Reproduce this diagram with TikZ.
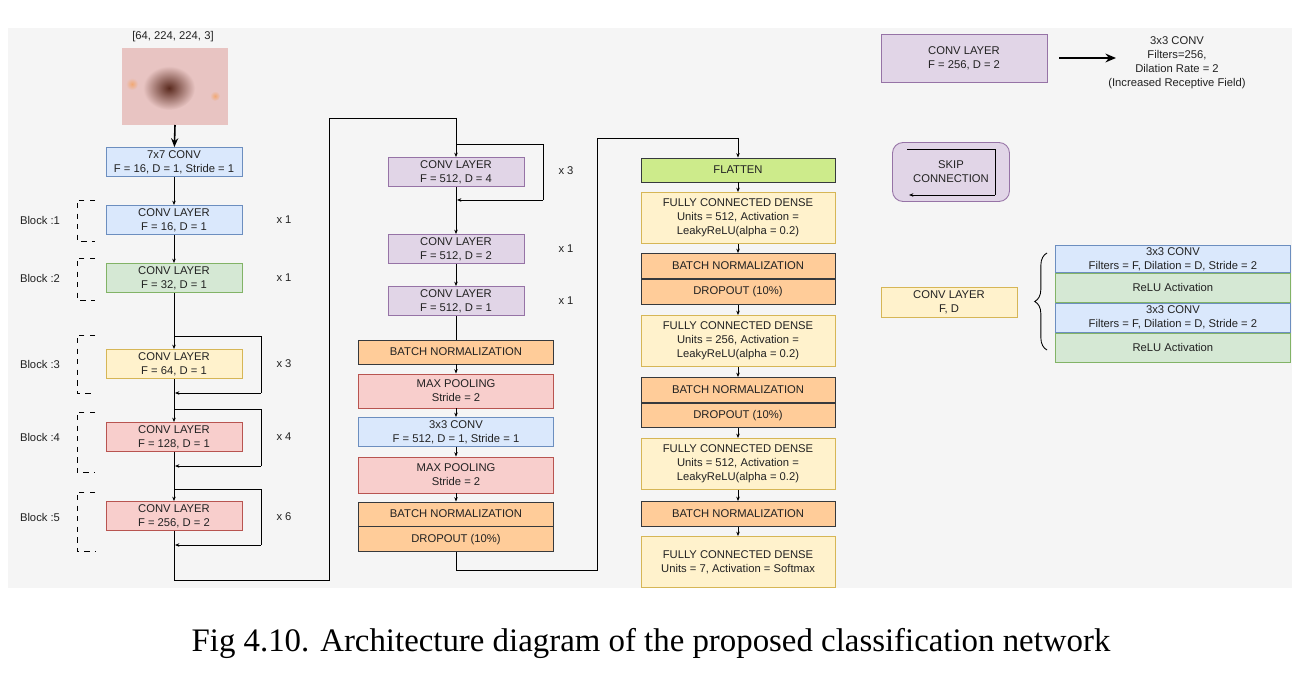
\documentclass[tikz,border=0pt]{standalone}
\usepackage{fontspec}
\setmainfont{Liberation Sans}
\newfontfamily\capfont{Liberation Serif}
\usetikzlibrary{arrows.meta,decorations.pathreplacing,calc}
\definecolor{bgc}{HTML}{F5F5F5}
\definecolor{bluef}{HTML}{DAE8FC}\definecolor{bluel}{HTML}{6C8EBF}
\definecolor{greenf}{HTML}{D5E8D4}\definecolor{greenl}{HTML}{82B366}
\definecolor{yelf}{HTML}{FFF2CC}\definecolor{yell}{HTML}{D6B656}
\definecolor{redf}{HTML}{F8CECC}\definecolor{redl}{HTML}{B85450}
\definecolor{purf}{HTML}{E1D5E7}\definecolor{purl}{HTML}{9673A6}
\definecolor{oraf}{HTML}{FFCC99}\definecolor{oral}{HTML}{36393D}
\definecolor{flatf}{HTML}{CDEB8B}
\definecolor{txt}{HTML}{222222}
\definecolor{skin}{HTML}{E8C4C2}
\definecolor{lesion}{HTML}{5A2A1E}
\begin{document}
\begin{tikzpicture}[x=0.02cm,y=-0.02cm,
  every node/.style={font=\fontsize{6.4}{8}\selectfont, text=txt, align=center, inner sep=0pt},
  box/.style={draw, line width=0.5pt},
  bl/.style={box, fill=bluef, draw=bluel},
  gr/.style={box, fill=greenf, draw=greenl},
  ye/.style={box, fill=yelf, draw=yell},
  re/.style={box, fill=redf, draw=redl},
  pu/.style={box, fill=purf, draw=purl},
  or/.style={box, fill=oraf, draw=oral},
  fl/.style={box, fill=flatf, draw=oral},
  w1/.style={minimum width=2.72cm, minimum height=0.58cm},
  w2/.style={minimum width=3.9cm},
  w3/.style={minimum width=3.88cm},
  ar/.style={-{Stealth[length=2.5pt,width=2pt]}, line width=0.5pt},
  ln/.style={line width=0.5pt},
  dsh/.style={dashed, line width=0.4pt}]
\useasboundingbox (0,0) rectangle (1300,678);
\fill[white] (0,0) rectangle (1300,678);
\fill[bgc] (8,28) rectangle (1292,588);

% input image
\node (shape) at (173,37) {[64, 224, 224, 3]};
\fill[skin] (122,48) rectangle (228,125);
\shade[inner color=lesion, outer color=skin] (169,88) ellipse (26 and 22);
\shade[inner color=orange!40!skin, outer color=skin] (132,84) circle (6);
\shade[inner color=orange!40!skin, outer color=skin] (215,96) circle (5);
\coordinate (img) at (175,125);

% column 1
\node[bl,w1] (c7) at (174,162) {7x7 CONV\\F = 16, D = 1, Stride = 1};
\node[bl,w1] (b1) at (174,220) {CONV LAYER\\F = 16, D = 1};
\node[gr,w1] (b2) at (174,278) {CONV LAYER\\F = 32, D = 1};
\node[ye,w1] (b3) at (174,364) {CONV LAYER\\F = 64, D = 1};
\node[re,w1] (b4) at (174,437) {CONV LAYER\\F = 128, D = 1};
\node[re,w1] (b5) at (174,516) {CONV LAYER\\F = 256, D = 2};
\draw[-{Stealth[length=5pt,width=4pt]}, line width=0.9pt] (img) -- (c7);
\draw[ar] (c7) -- (b1);
\draw[ar] (b1) -- (b2);
\draw[ar] (b2) -- (b3);
\draw[ar] (b3) -- (b4);
\draw[ar] (b4) -- (b5);
\foreach \n/\y/\t/\a/\b in {1/220/x 1/200/241, 2/278/x 1/258/300, 3/364/x 3/335/393, 4/437/x 4/412/472, 5/517/x 6/492/551}{
  \node (bl\n) at (40,\y) {Block :\n};
  \node (x\n) at (284,\y) {\t};
  \draw[dsh] (95,\a) -- (77,\a) -- (77,\b) -- (95,\b);
}
\foreach \a/\b in {336/393, 409/466, 489/545}{
  \draw[ln] (174,\a) -- (261,\a) -- (261,\b);
  \draw[ar] (261,\b) -- (175,\b);
}
\draw[ln] (b5.south) -- (174,580) -- (329,580) -- (329,118) -- (456,118);

% column 2
\node[pu,w1] (p1) at (456,172) {CONV LAYER\\F = 512, D = 4};
\node[pu,w1] (p2) at (456,249) {CONV LAYER\\F = 512, D = 2};
\node[pu,w1] (p3) at (456,301) {CONV LAYER\\F = 512, D = 1};
\draw[ar] (456,118) -- (p1);
\draw[ar] (p1) -- (p2);
\draw[ar] (p2) -- (p3);
\draw[ln] (456,144) -- (543,144) -- (543,200);
\draw[ar] (543,200) -- (457,200);
\node (x6) at (566,171) {x 3};
\node (x7) at (566,249) {x 1};
\node (x8) at (566,301) {x 1};
\node[or,w2,minimum height=0.48cm] (bn1) at (456,352) {BATCH NORMALIZATION};
\node[re,w2,minimum height=0.68cm] (mp1) at (456,391) {MAX POOLING\\Stride = 2};
\node[bl,w2,minimum height=0.58cm] (c33) at (456,432) {3x3 CONV\\F = 512, D = 1, Stride = 1};
\node[re,w2,minimum height=0.72cm] (mp2) at (456,475) {MAX POOLING\\Stride = 2};
\node[or,w2,minimum height=0.48cm] (bn2) at (456,514) {BATCH NORMALIZATION};
\node[or,w2,minimum height=0.5cm,anchor=north] (do1) at (bn2.south) {DROPOUT (10\%)};
\draw[ln] (p3) -- (bn1);
\draw[ar] (bn1) -- (mp1);
\draw[ar] (mp1) -- (c33);
\draw[ar] (c33) -- (mp2);
\draw[ar] (mp2) -- (bn2);
\draw[ln] (do1.south) -- (456,570) -- (597,570) -- (597,138) -- (738,138);

% column 3
\node[fl,w3,minimum height=0.48cm] (flat) at (738,170) {FLATTEN};
\node[ye,w3,minimum height=1.02cm] (fc1) at (738,218) {FULLY CONNECTED DENSE\\Units = 512, Activation =\\LeakyReLU(alpha = 0.2)};
\node[or,w3,minimum height=0.5cm] (bn3) at (738,266) {BATCH NORMALIZATION};
\node[or,w3,minimum height=0.5cm,anchor=north] (do2) at (bn3.south) {DROPOUT (10\%)};
\node[ye,w3,minimum height=1.02cm] (fc2) at (738,341) {FULLY CONNECTED DENSE\\Units = 256, Activation =\\LeakyReLU(alpha = 0.2)};
\node[or,w3,minimum height=0.5cm] (bn4) at (738,390) {BATCH NORMALIZATION};
\node[or,w3,minimum height=0.48cm,anchor=north] (do3) at (bn4.south) {DROPOUT (10\%)};
\node[ye,w3,minimum height=1.02cm] (fc3) at (738,464) {FULLY CONNECTED DENSE\\Units = 512, Activation =\\LeakyReLU(alpha = 0.2)};
\node[or,w3,minimum height=0.5cm] (bn5) at (738,514) {BATCH NORMALIZATION};
\node[ye,w3,minimum height=1.02cm] (fc4) at (738,562) {FULLY CONNECTED DENSE\\Units = 7, Activation = Softmax};
\draw[ar] (738,138) -- (flat);
\draw[ar] (flat) -- (fc1);
\draw[ar] (fc1) -- (bn3);
\draw[ar] (do2) -- (fc2);
\draw[ar] (fc2) -- (bn4);
\draw[ar] (do3) -- (fc3);
\draw[ar] (fc3) -- (bn5);
\draw[ar] (bn5) -- (fc4);

% legend
\node[pu,minimum width=3.32cm,minimum height=0.96cm] (lg1) at (964,58) {CONV LAYER\\F = 256, D = 2};
\node (lgt) at (1177,63) {3x3 CONV\\Filters=256,\\Dilation Rate = 2\\(Increased Receptive Field)};
\draw[-{Stealth[length=6pt,width=5pt]}, line width=1.3pt] (1059,58) -- (1116,58);
\node[pu,rounded corners=6pt,minimum width=2.34cm,minimum height=1.18cm] (skip) at (951,172) {SKIP\\CONNECTION};
\draw[ln] (907,149) -- (995,149) -- (995,195);
\draw[ar] (995,195) -- (909,195);
\node[ye,minimum width=2.72cm,minimum height=0.6cm] (cl) at (949,302) {CONV LAYER\\F, D};
\draw[ln, decorate, decoration={brace, amplitude=7pt}] (1047,350) -- (1047,253);
\node[bl,minimum width=4.7cm,minimum height=0.54cm,anchor=north west] (s1) at (1055,245) {3x3 CONV\\Filters = F, Dilation = D, Stride = 2};
\node[gr,minimum width=4.7cm,minimum height=0.58cm,anchor=north] (s2) at (s1.south) {ReLU Activation};
\node[bl,minimum width=4.7cm,minimum height=0.58cm,anchor=north] (s3) at (s2.south) {3x3 CONV\\Filters = F, Dilation = D, Stride = 2};
\node[gr,minimum width=4.7cm,minimum height=0.58cm,anchor=north] (s4) at (s3.south) {ReLU Activation};

% caption
\node[font=\capfont\fontsize{18.7}{22}\selectfont, text=black] (cap) at (651,643) {Fig 4.10. Architecture diagram of the proposed classification network};
\end{tikzpicture}
\end{document}
